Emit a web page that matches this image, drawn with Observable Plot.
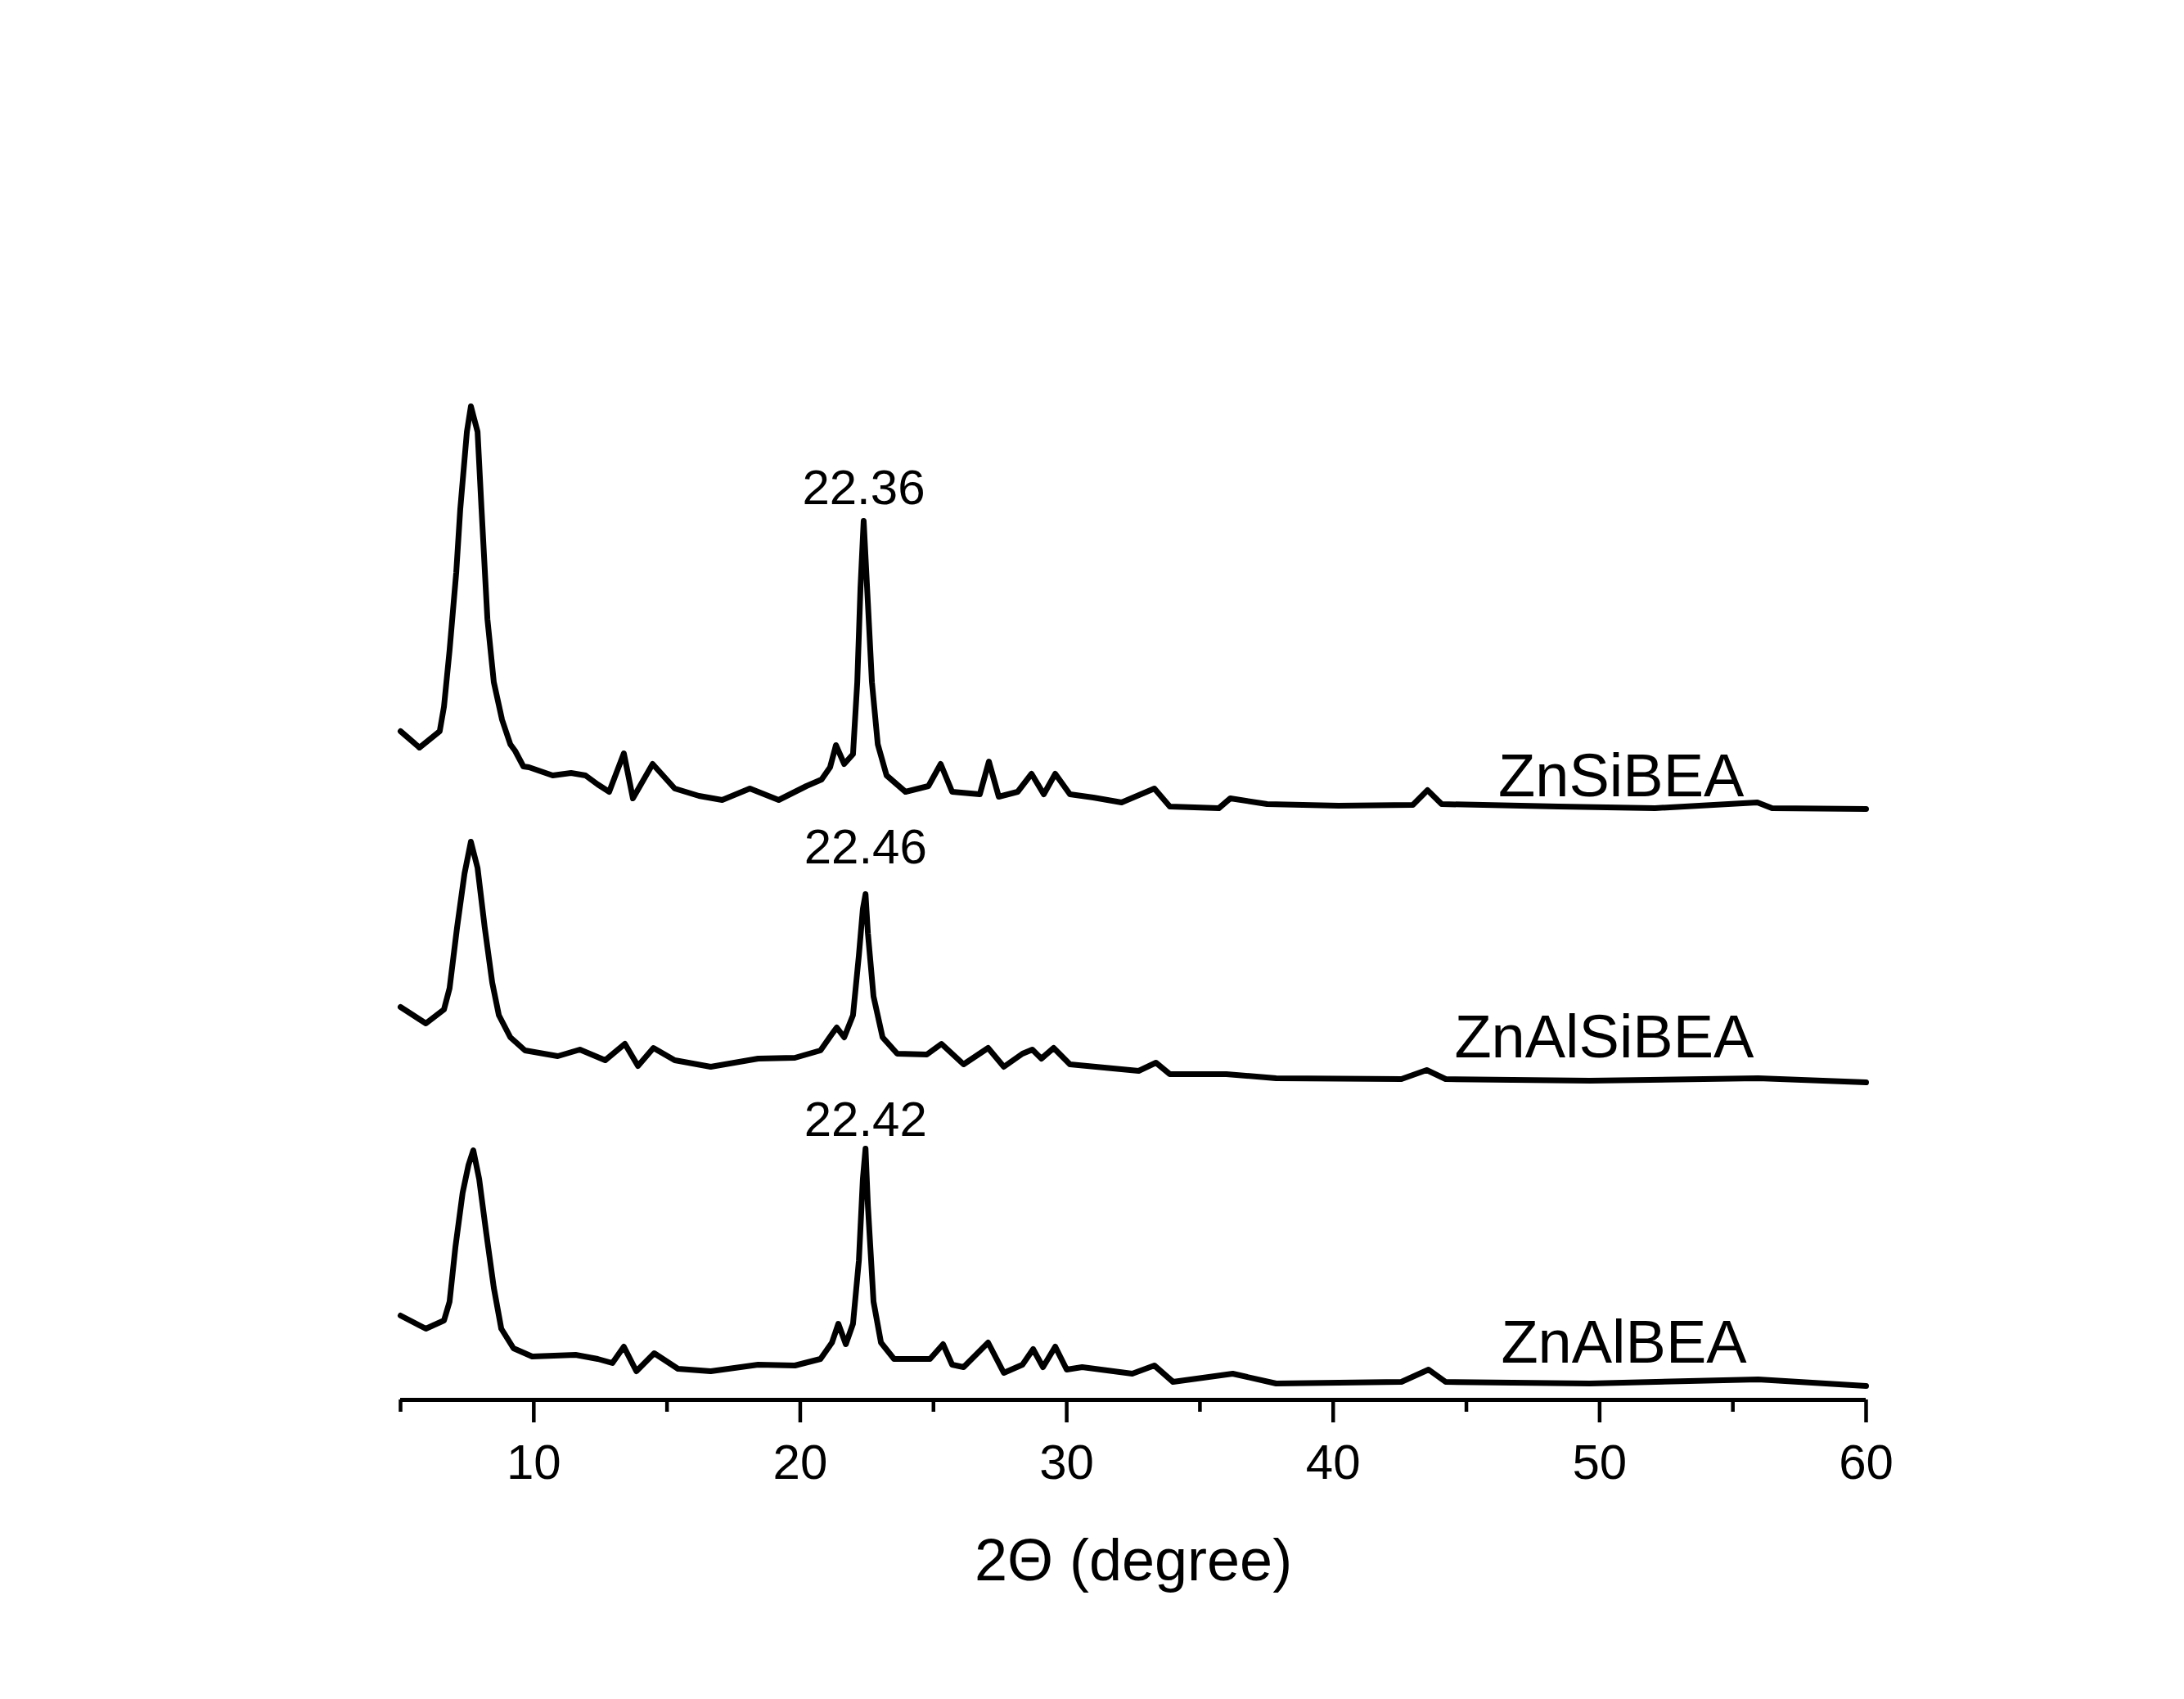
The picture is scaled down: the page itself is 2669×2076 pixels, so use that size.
<!DOCTYPE html>
<html>
<head>
<meta charset="utf-8">
<script src="https://cdn.jsdelivr.net/npm/d3@7"></script>
<script src="https://cdn.jsdelivr.net/npm/@observablehq/plot@0.6"></script>
<style>
  html, body { margin: 0; padding: 0; background: #fff; }
  svg { display: block; }
</style>
</head>
<body>
<div id="chart"></div>
<script>
// ---- Data (2θ in degrees, intensity in a.u., stacked patterns) ----
const seriesNames = ["ZnSiBEA", "ZnAlSiBEA", "ZnAlBEA"];

const thetaZnSi = [5, 5.71, 6.47, 6.63, 6.84, 7.09, 7.24, 7.49, 7.64, 7.89, 8.04, 8.26, 8.50, 8.81, 9.12, 9.30, 9.61, 9.82, 10.71, 11.4, 11.94, 12.4, 12.83, 13.38, 13.72, 14.46, 15.29, 16.2, 17.07, 18.11, 19.19, 20.23, 20.8, 21.12, 21.34, 21.65, 21.98, 22.14, 22.26, 22.38, 22.54, 22.69, 22.91, 23.24, 23.95, 24.81, 25.27, 25.70, 26.74, 27.08, 27.45, 28.16, 28.68, 29.14, 29.57, 30.12, 31.0, 32.06, 33.29, 33.87, 35.71, 36.14, 37.52, 40.2, 42.99, 43.54, 44.07, 48.46, 52.08, 55.92, 56.47, 60];
const intZnSi = [817, 797, 817, 847, 916, 1011, 1088, 1183, 1214, 1183, 1088, 954, 877, 831, 801, 793, 774, 773, 763, 766, 763, 752, 743, 790, 735, 777, 747, 738, 733, 747, 733, 750, 758, 773, 800, 777, 789, 877, 992, 1074, 973, 877, 801, 763, 743, 750, 777, 743, 740, 780, 737, 743, 765, 740, 765, 740, 736, 730, 747, 725, 723, 735, 728, 726, 727, 745, 728, 725, 723, 730, 723, 722];

const thetaZnAlSi = [5, 5.95, 6.63, 6.84, 7.12, 7.40, 7.64, 7.89, 8.16, 8.44, 8.69, 9.12, 9.67, 10.90, 11.73, 12.68, 13.42, 13.91, 14.49, 15.29, 16.64, 18.42, 19.80, 20.76, 21.19, 21.37, 21.65, 21.98, 22.20, 22.35, 22.45, 22.54, 22.75, 23.09, 23.64, 24.75, 25.30, 26.13, 27.05, 27.64, 28.34, 28.71, 29.05, 29.51, 30.12, 32.70, 33.35, 33.87, 35.99, 37.86, 42.56, 43.51, 44.22, 49.63, 55.95, 60];
const intZnAlSi = [480, 460, 477, 503, 577, 643, 682, 650, 577, 510, 470, 443, 427, 420, 428, 415, 435, 408, 430, 415, 407, 417, 418, 427, 447, 455, 443, 470, 543, 600, 618, 570, 493, 443, 423, 422, 435, 410, 430, 407, 423, 428, 417, 430, 410, 402, 412, 398, 398, 393, 392, 403, 392, 390, 393, 388];

const thetaZnAl = [5, 5.95, 6.63, 6.84, 7.06, 7.33, 7.55, 7.73, 7.95, 8.22, 8.50, 8.78, 9.24, 9.94, 11.57, 12.40, 12.95, 13.38, 13.85, 14.52, 15.41, 16.64, 18.42, 19.80, 20.76, 21.19, 21.43, 21.71, 21.98, 22.20, 22.35, 22.45, 22.54, 22.75, 23.03, 23.52, 24.87, 25.36, 25.70, 26.13, 27.05, 27.64, 28.34, 28.74, 29.11, 29.57, 30.00, 30.58, 32.46, 33.29, 33.99, 36.23, 37.86, 42.56, 43.58, 44.22, 49.63, 55.95, 60];
const intZnAl = [103, 87, 97, 120, 187, 253, 287, 305, 270, 203, 137, 87, 63, 53, 55, 50, 45, 65, 35, 57, 38, 35, 43, 42, 50, 70, 93, 68, 93, 170, 270, 307, 237, 120, 70, 50, 50, 68, 43, 40, 70, 33, 43, 62, 40, 65, 37, 40, 32, 42, 22, 32, 20, 22, 37, 22, 20, 25, 17];

const peakLabels = ["22.36", "22.46", "22.42"];
const majorTicks = [10, 20, 30, 40, 50, 60];
const minorTicks = [5, 15, 25, 35, 45, 55];
const xLabel = "2\u0398 (degree)";

// ---- Build tables ----
const series = [
  {name: seriesNames[0], x: thetaZnSi, y: intZnSi},
  {name: seriesNames[1], x: thetaZnAlSi, y: intZnAlSi},
  {name: seriesNames[2], x: thetaZnAl, y: intZnAl}
];
const rows = series.flatMap(s => s.x.map((x, i) => ({name: s.name, x, y: s.y[i]})));

// peak of each series near 22.4°
const peaks = series.map((s, k) => {
  let best = -1, bi = 0;
  s.x.forEach((x, i) => { if (x > 21.8 && x < 23 && s.y[i] > best) { best = s.y[i]; bi = i; } });
  return {label: peakLabels[k], x: s.x[bi], y: s.y[bi]};
});
// series name labels (anchored to the end of each trace)
const nameLabelX = [46.2, 44.55, 46.3];
const nameLabelDy = [-68, -83, -81];
const peakLabelDy = [-63, -80, -58];

const W = 2669, H = 2076;
const chart = Plot.plot({
  width: W,
  height: H,
  marginLeft: 489,
  marginRight: 389,
  marginTop: 210,
  marginBottom: 366,
  style: {fontFamily: "'Liberation Sans', Arial, sans-serif", color: "#000", background: "#fff", overflow: "visible"},
  x: {domain: [5, 60], label: null},
  y: {domain: [0, 1500], axis: null},
  marks: [
    Plot.line(rows, {x: "x", y: "y", z: "name", stroke: "#000", strokeWidth: 7, strokeLinejoin: "round", strokeLinecap: "round"}),
    Plot.ruleY([0], {stroke: "#000", strokeWidth: 5}),
    Plot.axisX({ticks: majorTicks, tickSize: 28, tickPadding: 26, strokeWidth: 4.5, fontSize: 60, label: null, tickFormat: d => String(d)}),
    Plot.axisX({ticks: minorTicks, tickSize: 15, strokeWidth: 4.5, tickFormat: () => "", label: null}),
    ...peaks.map((p, k) => Plot.text([p], {x: "x", y: "y", text: "label", textAnchor: "middle", lineAnchor: "top", dy: peakLabelDy[k], fontSize: 60, fill: "#000"})),
    ...series.map((s, k) => Plot.text([{label: s.name, x: nameLabelX[k], y: s.y[s.y.length - 1]}], {x: "x", y: "y", text: "label", textAnchor: "start", lineAnchor: "top", dy: nameLabelDy[k], fontSize: 74, fill: "#000"})),
    Plot.text([xLabel], {frameAnchor: "bottom", textAnchor: "middle", lineAnchor: "top", dy: 169, fontSize: 72, fill: "#000"})
  ]
});
document.getElementById("chart").appendChild(chart);
</script>
</body>
</html>
